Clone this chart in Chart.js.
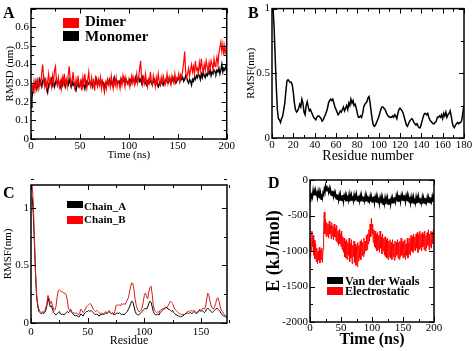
<!DOCTYPE html>
<html>
<head>
<meta charset="utf-8">
<script src="https://cdn.jsdelivr.net/npm/chart.js@4.4.1/dist/chart.umd.min.js"></script>
<style>
  body { margin: 0; background: #fff; }
  #fig { position: relative; width: 474px; height: 351px; overflow: hidden; background: #fff; }
  #fig canvas { position: absolute; }
  .lbl { position: absolute; font-family: "Liberation Serif", "Times New Roman", serif; font-weight: bold; line-height: 1; white-space: nowrap; color: #000; }
  .box { position: absolute; }
</style>
</head>
<body>
<div id="fig">
  <canvas id="chartA" width="236" height="168" style="left:0;top:0"></canvas>
  <canvas id="chartB" width="238" height="168" style="left:236px;top:0"></canvas>
  <canvas id="chartC" width="236" height="181" style="left:0;top:170px"></canvas>
  <canvas id="chartD" width="238" height="181" style="left:236px;top:170px"></canvas>

  <div class="lbl" style="left:3px;top:5px;font-size:16px">A</div>
  <div class="lbl" style="left:248px;top:5px;font-size:16px">B</div>
  <div class="lbl" style="left:3px;top:185px;font-size:16px">C</div>
  <div class="lbl" style="left:268px;top:175px;font-size:16px">D</div>

  <div class="box" style="left:63px;top:18px;width:16px;height:10px;background:#ff0000"></div>
  <div class="lbl" style="left:85px;top:14px;font-size:15px">Dimer</div>
  <div class="box" style="left:63px;top:31px;width:16px;height:10px;background:#000"></div>
  <div class="lbl" style="left:85px;top:29px;font-size:15px">Monomer</div>

  <div class="box" style="left:67px;top:201px;width:16px;height:7px;background:#000"></div>
  <div class="lbl" style="left:84px;top:201px;font-size:11px">Chain_A</div>
  <div class="box" style="left:67px;top:216px;width:16px;height:8px;background:#ff0000"></div>
  <div class="lbl" style="left:84px;top:214px;font-size:11px">Chain_B</div>

  <div class="box" style="left:327px;top:277px;width:16px;height:7px;background:#000"></div>
  <div class="lbl" style="left:345px;top:275px;font-size:12px">Van der Waals</div>
  <div class="box" style="left:327px;top:287px;width:16px;height:8px;background:#ff0000"></div>
  <div class="lbl" style="left:345px;top:285px;font-size:12px">Electrostatic</div>
</div>
<script>
// A: backbone RMSD (nm), one value per ns, 0..200 ns
const rmsdDimer = [
  0.25, 0.29, 0.27, 0.31, 0.26, 0.30, 0.28, 0.33, 0.27, 0.30,
  0.29, 0.36, 0.40, 0.31, 0.28, 0.33, 0.27, 0.31, 0.35, 0.29,
  0.32, 0.28, 0.34, 0.30, 0.37, 0.39, 0.31, 0.29, 0.33, 0.28,
  0.31, 0.27, 0.33, 0.30, 0.35, 0.29, 0.32, 0.28, 0.34, 0.39,
  0.33, 0.29, 0.31, 0.36, 0.30, 0.27, 0.32, 0.29, 0.34, 0.30,
  0.28, 0.31, 0.26, 0.33, 0.29, 0.35, 0.30, 0.27, 0.32, 0.36,
  0.30, 0.28, 0.33, 0.29, 0.31, 0.26, 0.34, 0.30, 0.28, 0.32,
  0.29, 0.33, 0.27, 0.31, 0.28, 0.25, 0.30, 0.27, 0.32, 0.29,
  0.31, 0.28, 0.34, 0.30, 0.27, 0.32, 0.29, 0.33, 0.28, 0.31,
  0.30, 0.27, 0.32, 0.29, 0.34, 0.31, 0.28, 0.33, 0.30, 0.29,
  0.32, 0.28, 0.31, 0.34, 0.30, 0.33, 0.29, 0.31, 0.35, 0.30,
  0.33, 0.38, 0.42, 0.32, 0.29, 0.33, 0.30, 0.35, 0.31, 0.28,
  0.32, 0.30, 0.36, 0.31, 0.29, 0.34, 0.31, 0.28, 0.33, 0.30,
  0.35, 0.31, 0.29, 0.33, 0.30, 0.34, 0.32, 0.29, 0.31, 0.35,
  0.30, 0.33, 0.31, 0.29, 0.34, 0.32, 0.30, 0.35, 0.31, 0.33,
  0.32, 0.35, 0.31, 0.34, 0.33, 0.37, 0.41, 0.47, 0.36, 0.33,
  0.35, 0.38, 0.34, 0.37, 0.40, 0.36, 0.39, 0.35, 0.42, 0.37,
  0.38, 0.35, 0.41, 0.37, 0.43, 0.38, 0.36, 0.40, 0.37, 0.42,
  0.39, 0.36, 0.41, 0.38, 0.42, 0.40, 0.37, 0.43, 0.39, 0.41,
  0.44, 0.40, 0.46, 0.49, 0.52, 0.47, 0.51, 0.45, 0.50, 0.46,
  0.45
];
const rmsdMonomer = [
  0.17, 0.22, 0.26, 0.29, 0.28, 0.31, 0.27, 0.30, 0.29, 0.32,
  0.30, 0.28, 0.31, 0.33, 0.29, 0.30, 0.27, 0.25, 0.29, 0.31,
  0.30, 0.32, 0.29, 0.31, 0.28, 0.30, 0.32, 0.29, 0.31, 0.30,
  0.28, 0.31, 0.29, 0.32, 0.30, 0.28, 0.31, 0.30, 0.29, 0.32,
  0.30, 0.28, 0.31, 0.29, 0.30, 0.27, 0.26, 0.29, 0.30, 0.28,
  0.29, 0.31, 0.28, 0.30, 0.29, 0.27, 0.30, 0.31, 0.29, 0.30,
  0.31, 0.29, 0.30, 0.28, 0.31, 0.29, 0.30, 0.32, 0.29, 0.31,
  0.30, 0.32, 0.29, 0.31, 0.30, 0.28, 0.30, 0.29, 0.31, 0.30,
  0.32, 0.30, 0.31, 0.29, 0.31, 0.33, 0.30, 0.32, 0.31, 0.30,
  0.31, 0.29, 0.32, 0.30, 0.31, 0.33, 0.30, 0.32, 0.31, 0.30,
  0.31, 0.32, 0.30, 0.33, 0.31, 0.32, 0.30, 0.33, 0.31, 0.32,
  0.33, 0.31, 0.32, 0.30, 0.33, 0.31, 0.32, 0.30, 0.29, 0.31,
  0.30, 0.32, 0.31, 0.30, 0.29, 0.31, 0.32, 0.30, 0.31, 0.29,
  0.28, 0.30, 0.29, 0.31, 0.30, 0.29, 0.31, 0.30, 0.32, 0.31,
  0.30, 0.31, 0.32, 0.30, 0.31, 0.33, 0.31, 0.32, 0.30, 0.31,
  0.32, 0.33, 0.31, 0.34, 0.32, 0.33, 0.31, 0.32, 0.34, 0.33,
  0.31, 0.30, 0.32, 0.31, 0.29, 0.32, 0.31, 0.33, 0.32, 0.34,
  0.33, 0.35, 0.34, 0.32, 0.35, 0.33, 0.36, 0.34, 0.33, 0.35,
  0.34, 0.36, 0.35, 0.37, 0.34, 0.36, 0.35, 0.37, 0.36, 0.35,
  0.37, 0.36, 0.38, 0.35, 0.37, 0.40, 0.36, 0.38, 0.37, 0.39,
  0.38
];

// B: RMSF (nm) per residue, residues 1..180
const rmsfMonomer = [
  1.00, 0.85, 0.62, 0.40, 0.22, 0.15, 0.14, 0.12, 0.15, 0.17,
  0.22, 0.27, 0.36, 0.44, 0.45, 0.44, 0.43, 0.43, 0.41, 0.35,
  0.27, 0.22, 0.20, 0.21, 0.23, 0.26, 0.24, 0.30, 0.27, 0.20,
  0.18, 0.25, 0.28, 0.24, 0.21, 0.22, 0.20, 0.18, 0.16, 0.15,
  0.14, 0.16, 0.17, 0.17, 0.16, 0.15, 0.13, 0.14, 0.16, 0.18,
  0.20, 0.23, 0.27, 0.29, 0.30, 0.29, 0.30, 0.27, 0.24, 0.22,
  0.20, 0.18, 0.19, 0.21, 0.20, 0.22, 0.24, 0.21, 0.23, 0.25,
  0.22, 0.27, 0.25, 0.30, 0.27, 0.29, 0.25, 0.26, 0.23, 0.19,
  0.16, 0.16, 0.17, 0.16, 0.19, 0.24, 0.26, 0.27, 0.28, 0.31,
  0.32, 0.27, 0.20, 0.14, 0.10, 0.09, 0.10, 0.12, 0.14, 0.16,
  0.19, 0.22, 0.24, 0.24, 0.23, 0.22, 0.20, 0.18, 0.17, 0.16,
  0.16, 0.16, 0.17, 0.16, 0.18, 0.17, 0.15, 0.19, 0.22, 0.23,
  0.22, 0.21, 0.19, 0.16, 0.13, 0.10, 0.09, 0.11, 0.13, 0.14,
  0.15, 0.14, 0.12, 0.11, 0.10, 0.11, 0.09, 0.08, 0.08, 0.11,
  0.14, 0.17, 0.19, 0.19, 0.18, 0.19, 0.16, 0.14, 0.13, 0.12,
  0.11, 0.11, 0.12, 0.13, 0.16, 0.16, 0.17, 0.16, 0.18, 0.15,
  0.19, 0.17, 0.20, 0.16, 0.18, 0.19, 0.21, 0.17, 0.12, 0.09,
  0.08, 0.10, 0.11, 0.12, 0.11, 0.12, 0.12, 0.14, 0.20, 0.25
];

// C: RMSF (nm) per residue of each chain, residues 1..173
const rmsfChainA = [
  1.10, 0.95, 0.70, 0.42, 0.22, 0.14, 0.10, 0.09, 0.08, 0.09,
  0.08, 0.09, 0.11, 0.15, 0.22, 0.18, 0.14, 0.15, 0.12, 0.09,
  0.08, 0.07, 0.08, 0.09, 0.10, 0.08, 0.07, 0.08, 0.07, 0.08,
  0.09, 0.10, 0.09, 0.10, 0.11, 0.09, 0.08, 0.07, 0.06, 0.07,
  0.06, 0.05, 0.06, 0.08, 0.07, 0.06, 0.08, 0.09, 0.10, 0.10,
  0.11, 0.10, 0.11, 0.10, 0.09, 0.08, 0.07, 0.08, 0.07, 0.06,
  0.07, 0.07, 0.08, 0.07, 0.08, 0.09, 0.08, 0.09, 0.10, 0.09,
  0.08, 0.09, 0.08, 0.07, 0.08, 0.09, 0.08, 0.09, 0.08, 0.07,
  0.08, 0.07, 0.08, 0.09, 0.10, 0.12, 0.14, 0.17, 0.19, 0.18,
  0.14, 0.10, 0.08, 0.07, 0.07, 0.08, 0.09, 0.10, 0.11, 0.12,
  0.13, 0.12, 0.14, 0.17, 0.19, 0.18, 0.14, 0.10, 0.08, 0.07,
  0.07, 0.08, 0.07, 0.09, 0.10, 0.11, 0.12, 0.13, 0.14, 0.13,
  0.12, 0.12, 0.11, 0.10, 0.11, 0.09, 0.08, 0.07, 0.07, 0.06,
  0.06, 0.05, 0.06, 0.06, 0.07, 0.08, 0.08, 0.09, 0.08, 0.09,
  0.09, 0.08, 0.09, 0.10, 0.09, 0.08, 0.09, 0.10, 0.11, 0.10,
  0.11, 0.10, 0.09, 0.10, 0.12, 0.13, 0.12, 0.11, 0.10, 0.09,
  0.10, 0.11, 0.12, 0.13, 0.12, 0.11, 0.10, 0.08, 0.07, 0.06,
  0.06, 0.05, 0.05
];
const rmsfChainB = [
  1.20, 1.05, 0.75, 0.45, 0.25, 0.16, 0.12, 0.10, 0.09, 0.10,
  0.09, 0.11, 0.13, 0.17, 0.24, 0.21, 0.17, 0.19, 0.15, 0.12,
  0.11, 0.14, 0.22, 0.28, 0.29, 0.28, 0.27, 0.27, 0.26, 0.26,
  0.25, 0.20, 0.13, 0.11, 0.12, 0.10, 0.09, 0.09, 0.08, 0.09,
  0.08, 0.07, 0.09, 0.12, 0.11, 0.09, 0.10, 0.12, 0.14, 0.15,
  0.16, 0.17, 0.16, 0.14, 0.12, 0.11, 0.10, 0.11, 0.10, 0.09,
  0.08, 0.09, 0.08, 0.08, 0.09, 0.10, 0.09, 0.10, 0.11, 0.09,
  0.08, 0.08, 0.07, 0.10, 0.15, 0.16, 0.15, 0.16, 0.15, 0.17,
  0.16, 0.17, 0.16, 0.18, 0.20, 0.22, 0.27, 0.32, 0.35, 0.34,
  0.28, 0.20, 0.15, 0.12, 0.10, 0.10, 0.11, 0.13, 0.18, 0.24,
  0.26, 0.23, 0.21, 0.27, 0.31, 0.32, 0.25, 0.15, 0.11, 0.10,
  0.09, 0.10, 0.09, 0.11, 0.12, 0.12, 0.13, 0.12, 0.14, 0.13,
  0.15, 0.17, 0.19, 0.18, 0.17, 0.14, 0.12, 0.11, 0.10, 0.09,
  0.08, 0.08, 0.07, 0.08, 0.07, 0.08, 0.09, 0.10, 0.10, 0.11,
  0.10, 0.11, 0.10, 0.11, 0.10, 0.09, 0.10, 0.11, 0.12, 0.11,
  0.12, 0.13, 0.12, 0.14, 0.20, 0.26, 0.24, 0.19, 0.15, 0.13,
  0.12, 0.14, 0.17, 0.21, 0.22, 0.19, 0.14, 0.11, 0.10, 0.08,
  0.07, 0.06, 0.05
];

// D: interaction energy (kJ/mol), one value per ns, 0..200 ns
const energyVdw = [
  -300, -220, -260, -180, -230, -150, -220, -160, -210, -150,
  -220, -160, -240, -170, -250, -180, -260, -190, -270, -200,
  -250, -180, -200, -130, -160, -90, -150, -80, -140, -110,
  -170, -120, -190, -140, -210, -150, -220, -160, -230, -180,
  -240, -190, -260, -200, -270, -210, -280, -220, -290, -210,
  -280, -220, -290, -210, -300, -230, -280, -220, -300, -230,
  -290, -220, -280, -210, -300, -230, -290, -220, -280, -230,
  -290, -220, -300, -230, -280, -210, -290, -230, -300, -220,
  -290, -230, -300, -220, -280, -230, -300, -240, -290, -220,
  -300, -230, -290, -220, -310, -240, -290, -230, -300, -240,
  -310, -240, -300, -230, -320, -250, -310, -240, -320, -250,
  -320, -250, -330, -260, -320, -250, -330, -260, -340, -260,
  -330, -260, -340, -270, -330, -260, -340, -270, -330, -260,
  -340, -270, -330, -260, -320, -250, -310, -240, -300, -230,
  -290, -220, -300, -210, -290, -220, -300, -230, -290, -220,
  -280, -210, -290, -220, -300, -230, -290, -220, -300, -240,
  -310, -240, -320, -250, -330, -260, -320, -250, -330, -260,
  -320, -250, -330, -260, -320, -240, -310, -250, -330, -260,
  -320, -250, -330, -260, -320, -250, -330, -260, -310, -250,
  -320, -250, -310, -240, -320, -250, -300, -240, -310, -230,
  -260
];
const energyElec = [
  -1080, -820, -1000, -720, -940, -780, -1060, -850, -1110, -900,
  -1150, -960, -1180, -1000, -1130, -950, -1170, -990, -1120, -960,
  -1160, -980, -700, -450, -760, -560, -800, -600, -780, -620,
  -820, -580, -760, -640, -830, -600, -790, -650, -840, -620,
  -800, -680, -860, -640, -880, -720, -920, -700, -900, -760,
  -940, -720, -980, -800, -1020, -820, -1080, -860, -1100, -840,
  -1120, -880, -1060, -820, -1150, -900, -1100, -840, -1180, -920,
  -1080, -860, -1160, -900, -1200, -940, -1220, -880, -1140, -920,
  -1100, -860, -1120, -840, -1060, -880, -1080, -820, -1040, -860,
  -1000, -780, -980, -760, -900, -700, -860, -620, -800, -540,
  -760, -620, -880, -700, -940, -720, -960, -760, -1000, -740,
  -980, -780, -1020, -720, -960, -800, -1040, -760, -1000, -820,
  -1060, -800, -1080, -840, -1100, -820, -1120, -860, -1080, -840,
  -1100, -880, -1120, -840, -1080, -900, -1130, -860, -1090, -880,
  -1060, -840, -1100, -880, -1120, -860, -1080, -820, -1060, -880,
  -1100, -860, -1080, -840, -1120, -900, -1060, -820, -1100, -880,
  -1040, -820, -1060, -780, -1000, -800, -1020, -760, -980, -800,
  -1000, -760, -960, -740, -1020, -780, -980, -720, -960, -760,
  -1000, -740, -940, -760, -980, -720, -1000, -780, -960, -740,
  -920, -700, -980, -760, -940, -720, -960, -740, -900, -700,
  -820
];

const serif = '"Liberation Serif", "Times New Roman", serif';
Chart.defaults.font.family = serif;
Chart.defaults.color = '#000';

// closed frame with inward major/minor ticks on all four sides
const frameTicks = {
  id: 'frameTicks',
  afterDraw(chart, args, o) {
    const { ctx, chartArea: a, scales: { x, y } } = chart;
    ctx.save();
    ctx.strokeStyle = '#000';
    ctx.lineWidth = 1;
    ctx.beginPath();
    const nx = Math.round((x.max - x.min) / o.xMinor);
    for (let k = 0; k <= nx; k++) {
      const v = x.min + k * o.xMinor;
      const len = (k * o.xMinor) % o.xMajor < 1e-6 ? 5 : 3;
      const px = Math.round(x.getPixelForValue(v)) + 0.5;
      ctx.moveTo(px, a.bottom); ctx.lineTo(px, a.bottom - len);
      ctx.moveTo(px, a.top); ctx.lineTo(px, a.top + len);
    }
    const ny = Math.round((y.max - y.min) / o.yMinor);
    for (let k = 0; k <= ny; k++) {
      const v = y.min + k * o.yMinor;
      const r = (k * o.yMinor) / o.yMajor;
      const len = Math.abs(r - Math.round(r)) < 1e-6 ? 5 : 3;
      const py = Math.round(y.getPixelForValue(v)) + 0.5;
      ctx.moveTo(a.left, py); ctx.lineTo(a.left + len, py);
      ctx.moveTo(a.right, py); ctx.lineTo(a.right - len, py);
    }
    ctx.stroke();
    ctx.lineWidth = 1.5;
    ctx.strokeRect(a.left, a.top, a.right - a.left, a.bottom - a.top);
    ctx.restore();
  }
};

function onStep(step, hide) {
  return (v) => {
    const r = v / step;
    if (Math.abs(r - Math.round(r)) > 1e-6) return '';
    if (hide !== undefined && Math.abs(v - hide) < 1e-6) return '';
    return String(Math.round(v * 100) / 100);
  };
}

function series(values, x0, color, width) {
  return {
    data: values.map((v, i) => ({ x: x0 + i, y: v })),
    borderColor: color,
    borderWidth: width,
    pointRadius: 0,
    tension: 0,
    fill: false
  };
}

function panel(id, p) {
  return new Chart(document.getElementById(id), {
    type: 'line',
    data: { datasets: p.datasets },
    plugins: [frameTicks],
    options: {
      responsive: false,
      animation: false,
      devicePixelRatio: 1,
      layout: { padding: p.pad },
      plugins: {
        legend: { display: false },
        tooltip: { enabled: false },
        frameTicks: p.ticks
      },
      scales: {
        x: {
          type: 'linear',
          min: p.x[0], max: p.x[1],
          grid: { display: false, drawTicks: false },
          border: { display: false },
          ticks: { stepSize: p.x[2], includeBounds: false, autoSkip: false, maxRotation: 0, padding: p.xPad,
                   font: { size: 11 }, callback: onStep(p.x[2]) },
          title: { display: true, text: p.xTitle, font: p.xFont, padding: { top: 0, bottom: p.xTitlePad } },
          afterFit: (s) => { s.height = p.xH; }
        },
        y: {
          type: 'linear',
          min: p.y[0], max: p.y[1],
          grid: { display: false, drawTicks: false },
          border: { display: false },
          ticks: { stepSize: p.y[2], includeBounds: false, autoSkip: false, padding: 2,
                   font: { size: 11 }, callback: onStep(p.y[2], p.yHide) },
          title: { display: true, text: p.yTitle, font: p.yFont, padding: { top: p.yTitlePad, bottom: 0 } },
          afterFit: (s) => { s.width = p.yW; }
        }
      }
    }
  });
}

panel('chartA', {
  datasets: [series(rmsdDimer, 0, '#ff0000', 1.2), series(rmsdMonomer, 0, '#000000', 1.4)],
  pad: { left: 0, top: 3, right: 8, bottom: 0 },
  x: [0, 200, 50], y: [0, 0.7, 0.1], yHide: 0.7,
  xPad: 1, xH: 29, yW: 31,
  xTitle: 'Time (ns)', xFont: { size: 11 }, xTitlePad: 6,
  yTitle: 'RMSD (nm)', yFont: { size: 11 }, yTitlePad: 4,
  ticks: { xMajor: 50, xMinor: 25, yMajor: 0.1, yMinor: 0.05 }
});

panel('chartB', {
  datasets: [series(rmsfMonomer, 1, '#000000', 1.5)],
  pad: { left: 0, top: 5, right: 10, bottom: 0 },
  x: [0, 180, 20], y: [0, 1, 0.5],
  xPad: 1, xH: 30, yW: 36,
  xTitle: 'Residue number', xFont: { size: 14 }, xTitlePad: 3,
  yTitle: 'RMSF(nm)', yFont: { size: 11 }, yTitlePad: 9,
  ticks: { xMajor: 20, xMinor: 10, yMajor: 0.5, yMinor: 0.25 }
});

panel('chartC', {
  datasets: [series(rmsfChainB, 1, '#d81c1c', 1), series(rmsfChainA, 1, '#000000', 1)],
  pad: { left: 0, top: 15, right: 9, bottom: 0 },
  x: [0, 173, 50], y: [0, 1.2, 0.5],
  xPad: 3, xH: 28, yW: 31,
  xTitle: 'Residue', xFont: { size: 12 }, xTitlePad: 3,
  yTitle: 'RMSF(nm)', yFont: { size: 11 }, yTitlePad: 2,
  ticks: { xMajor: 50, xMinor: 25, yMajor: 0.5, yMinor: 0.25 }
});

panel('chartD', {
  datasets: [series(energyVdw, 0, '#000000', 1.5), series(energyElec, 0, '#ff0000', 1)],
  pad: { left: 0, top: 10, right: 40, bottom: 0 },
  x: [0, 200, 50], y: [-2000, 0, 500],
  xPad: 0, xH: 29, yW: 74,
  xTitle: 'Time (ns)', xFont: { size: 16, weight: 'bold' }, xTitlePad: 2,
  yTitle: 'E (kJ/mol)', yFont: { size: 18, weight: 'bold' }, yTitlePad: 28,
  ticks: { xMajor: 50, xMinor: 25, yMajor: 500, yMinor: 250 }
});
</script>
</body>
</html>
